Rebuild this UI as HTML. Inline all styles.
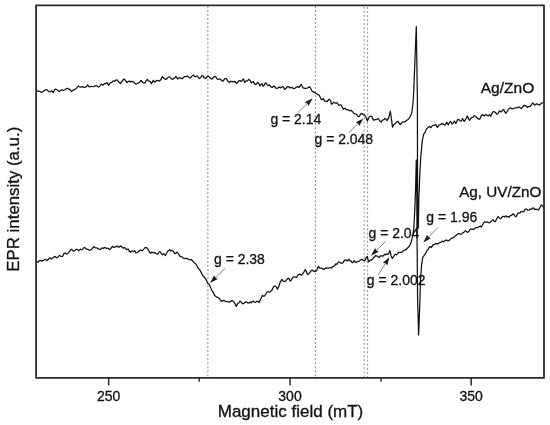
<!DOCTYPE html>
<html><head><meta charset="utf-8"><title>EPR spectra</title>
<style>
html,body{margin:0;padding:0;background:#fff;}
body{width:550px;height:425px;overflow:hidden;}
svg{display:block;font-family:"Liberation Sans",Arial,sans-serif;fill:#111;}
svg text{fill:#111;}
</style></head><body>
<svg width="550" height="425" viewBox="0 0 550 425"><rect width="550" height="425" fill="#fff"/><line x1="207.9" y1="5.8" x2="207.9" y2="376.9" stroke="#8a8a8a" stroke-width="1" stroke-dasharray="2.1 1.95"/><line x1="315.4" y1="5.8" x2="315.4" y2="376.9" stroke="#8a8a8a" stroke-width="1" stroke-dasharray="2.1 1.95"/><line x1="364.2" y1="6.6" x2="364.2" y2="376.9" stroke="#8a8a8a" stroke-width="1" stroke-dasharray="2 2.1"/><line x1="367.6" y1="7.0" x2="367.6" y2="376.9" stroke="#8a8a8a" stroke-width="1" stroke-dasharray="2 2.1"/><polyline points="36.0,90.6 37.8,91.2 39.0,91.0 40.1,91.5 41.2,92.1 42.4,92.1 44.2,90.5 46.0,89.5 47.1,89.8 48.3,91.2 49.4,91.7 50.5,91.8 51.9,90.9 53.3,92.5 54.6,89.5 56.0,89.2 57.4,90.0 58.5,91.1 59.6,91.4 60.8,90.3 61.9,89.7 63.2,90.4 64.6,90.0 66.0,88.9 67.4,88.2 68.5,89.1 69.6,89.1 70.5,90.1 71.5,91.5 73.3,90.0 75.1,89.4 76.9,87.7 78.3,86.1 79.6,86.8 80.8,87.1 81.9,86.8 83.1,86.7 84.2,87.5 86.0,87.0 87.8,85.0 88.9,86.6 90.1,86.8 91.4,86.4 92.8,86.5 93.9,86.5 95.1,85.9 96.2,85.5 97.4,86.2 98.5,87.1 99.6,86.5 100.5,84.8 101.5,84.1 102.8,85.3 104.6,83.5 105.8,83.5 106.9,82.7 108.7,85.3 109.8,83.2 111.0,82.7 112.2,82.0 113.3,80.9 115.1,81.1 116.2,79.9 117.4,80.2 119.0,82.2 120.5,83.5 121.6,81.7 122.6,80.8 123.7,79.1 125.1,79.8 126.9,82.7 128.1,81.5 129.2,81.1 130.3,81.9 131.5,81.4 132.8,81.6 134.2,82.5 136.0,84.2 137.8,83.2 139.2,82.7 141.0,80.5 142.8,82.5 143.9,83.1 145.1,82.7 146.2,80.5 147.4,79.4 148.5,80.8 149.6,81.4 150.6,82.0 151.5,83.6 153.3,80.3 154.6,82.1 155.8,81.4 156.9,80.3 158.1,80.5 159.2,81.2 161.0,79.5 162.4,76.6 164.2,78.5 166.0,79.4 167.2,78.5 168.3,77.0 169.4,76.8 170.5,77.9 171.7,79.1 172.8,79.4 173.9,78.0 174.9,78.0 176.0,76.4 177.8,79.1 178.9,77.9 180.1,77.7 181.2,78.5 182.4,78.5 184.2,76.6 186.0,76.7 187.2,76.0 188.3,76.7 189.4,77.9 190.5,77.9 191.9,76.1 193.3,74.9 194.4,76.3 195.5,76.7 196.4,75.9 197.4,76.1 199.2,78.5 200.6,77.7 201.9,75.5 203.1,76.1 204.2,77.9 205.5,78.4 206.4,77.8 207.4,76.4 208.5,76.1 209.6,77.3 210.8,78.5 211.9,79.1 213.3,77.5 214.4,76.5 215.5,76.5 216.9,78.7 218.3,79.5 219.4,79.0 220.5,79.1 221.7,80.7 222.8,81.3 223.9,79.7 225.0,78.6 226.4,78.6 227.9,81.2 229.5,82.5 230.7,81.3 231.8,81.4 232.9,81.9 234.1,81.4 235.2,81.7 236.4,83.5 237.5,82.6 238.6,80.9 239.8,80.5 240.9,81.4 242.1,80.7 243.2,78.9 245.0,82.5 246.2,80.9 247.4,80.8 248.6,79.3 250.0,80.4 251.4,82.9 253.2,81.6 254.6,83.9 255.9,84.7 257.7,82.3 258.9,83.6 260.0,85.9 261.8,83.5 263.2,86.2 264.4,85.0 265.5,82.7 266.6,83.9 267.7,85.5 269.5,85.0 270.9,86.8 272.3,87.3 273.4,86.2 274.5,86.3 275.9,88.2 277.2,88.5 279.0,87.1 280.8,87.8 282.6,86.6 283.6,87.3 284.5,89.4 286.1,88.3 287.6,86.4 288.8,86.7 289.9,87.8 291.7,87.3 293.5,88.5 294.6,88.6 295.8,87.5 297.6,86.6 299.0,87.5 300.1,85.7 301.3,84.4 302.4,86.8 303.5,88.2 304.4,88.1 305.4,88.7 307.2,88.0 308.4,87.6 309.5,86.6 310.8,88.5 312.2,91.2 314.0,92.1 315.8,93.3 317.6,94.4 318.6,94.8 319.5,95.7 321.3,99.6 322.3,99.7 323.3,98.5 324.7,101.1 326.0,101.1 327.3,101.6 329.1,99.1 330.5,100.6 331.6,104.2 332.6,103.5 333.5,102.2 335.3,103.1 337.1,102.9 338.9,105.5 340.7,104.7 342.0,106.5 343.3,109.1 345.1,108.1 346.2,109.5 347.3,109.5 348.4,109.9 349.5,110.8 351.3,110.3 353.1,112.4 354.2,113.6 355.3,113.8 356.8,114.7 358.3,116.6 359.5,116.3 360.7,113.8 361.9,113.4 363.2,114.8 364.5,114.8 365.9,117.0 367.4,121.0 369.2,117.0 370.4,116.3 371.7,116.3 372.8,118.7 373.9,120.3 375.2,119.5 376.5,119.5 378.3,118.5 379.8,121.0 381.2,122.1 382.4,120.1 383.6,120.0 384.8,118.5 385.9,119.2 387.0,120.6 388.8,117.4 390.3,111.2 391.4,118.5 392.5,127.2 393.9,124.6 394.9,124.0 395.8,122.7 397.0,121.7 398.2,121.4 399.2,123.5 400.3,124.7 401.6,122.7 402.8,121.8 404.1,122.0 405.3,121.4 406.5,120.4 407.7,119.8 408.9,118.6 410.2,116.5 411.6,113.5 412.4,108.0 413.1,102.0 413.8,90.0 414.5,71.8 415.5,45.9 416.3,26.5 417.4,100.0 417.6,228.0 418.3,228.0 418.8,200.0 419.7,176.6 420.7,157.7 422.4,139.9 423.8,133.9 424.9,132.8 426.5,129.0 428.2,127.4 429.6,126.3 430.9,127.7 432.5,125.5 434.2,125.2 435.8,124.6 437.4,127.4 439.1,124.8 440.7,124.6 441.8,123.3 443.4,124.4 445.1,124.8 446.7,122.4 448.4,124.8 449.4,122.7 450.5,121.4 452.2,124.1 453.3,123.1 454.4,121.1 456.0,123.3 457.6,119.7 458.7,119.3 459.8,120.5 461.4,121.1 462.5,118.6 464.2,121.4 465.8,119.2 467.4,115.9 468.5,118.7 469.6,120.3 470.7,118.4 471.8,117.5 472.9,117.3 474.0,115.9 475.1,115.8 476.2,117.0 477.8,118.6 478.8,119.1 479.8,119.1 481.1,116.1 482.3,114.5 484.1,116.0 485.9,114.5 487.7,115.7 488.6,115.9 489.6,114.7 490.8,116.3 492.6,112.1 493.9,111.5 495.1,112.3 496.9,114.2 498.1,113.3 499.3,111.1 501.1,111.8 502.4,110.3 503.6,109.6 504.8,111.9 506.0,113.3 507.8,110.2 509.1,108.7 510.3,107.8 511.8,108.8 513.3,108.6 514.5,108.0 515.8,107.8 517.0,107.8 518.2,107.1 519.4,107.2 521.2,108.6 522.5,107.3 523.7,105.4 525.5,105.7 527.3,107.4 528.5,106.6 529.8,106.6 531.3,105.0 532.8,102.9 534.6,105.0 535.9,104.2 537.1,103.8 538.3,104.7 539.5,105.0 541.3,103.3 542.4,102.8 543.5,102.9" fill="none" stroke="#111" stroke-width="1.25" stroke-linejoin="round"/><polyline points="36.0,261.4 37.8,262.3 39.6,260.5 40.8,260.4 41.9,261.1 43.7,260.2 45.1,259.3 46.9,260.5 48.2,259.6 49.6,258.2 50.5,257.9 51.5,259.1 53.3,257.5 55.1,256.4 56.2,257.6 57.4,257.7 58.5,256.3 59.6,255.5 61.0,256.4 62.4,256.5 64.2,253.2 65.3,253.0 66.3,254.0 67.4,253.8 69.2,251.8 71.0,249.3 72.2,249.9 73.3,251.1 74.7,250.9 76.0,249.3 77.3,249.3 78.7,250.9 80.5,249.1 81.5,249.8 82.4,249.5 83.5,248.0 84.6,247.5 86.0,248.8 87.8,249.4 89.6,250.3 90.8,250.0 91.9,249.1 93.7,246.6 95.5,247.9 96.7,247.9 97.8,248.5 99.2,249.4 100.5,249.4 101.5,248.3 102.4,247.9 103.5,248.4 104.6,247.5 105.5,247.7 106.5,248.5 107.8,248.2 109.6,249.7 111.0,248.3 112.4,246.4 114.2,247.5 116.0,246.6 117.2,246.0 118.3,247.0 119.3,247.0 120.4,245.9 121.4,246.5 122.4,247.7 123.5,248.1 124.6,247.5 125.5,248.4 126.5,249.7 128.3,249.1 129.4,251.2 130.5,252.3 131.4,251.0 132.4,251.2 133.5,251.6 134.6,250.6 136.0,252.9 137.8,252.5 139.6,250.3 140.8,249.9 141.9,250.7 143.1,250.0 144.2,248.5 145.3,247.6 146.5,247.5 148.3,249.8 149.4,251.9 150.5,253.3 151.4,252.2 152.4,252.4 153.5,253.0 154.6,252.5 156.0,253.6 157.8,254.2 158.9,252.2 160.1,251.5 161.2,253.5 162.4,254.8 163.7,253.6 165.5,255.5 166.7,253.0 167.8,251.2 169.6,249.8 170.8,250.8 171.9,250.5 173.2,251.1 174.6,253.3 175.6,253.6 176.5,252.4 177.6,252.6 178.7,254.2 179.8,256.1 181.0,256.6 182.2,256.8 183.3,258.2 184.7,258.6 186.0,258.3 187.3,258.4 188.6,259.5 189.9,259.9 191.2,259.5 192.1,260.3 193.1,261.5 194.1,262.7 195.1,263.4 196.1,264.3 197.0,266.0 198.0,268.0 199.0,269.2 200.2,270.5 201.5,273.1 202.8,275.8 204.1,277.0 205.4,278.5 206.7,280.9 207.7,283.3 208.7,284.1 209.6,285.0 210.6,287.4 211.6,290.1 212.6,291.3 213.6,292.8 214.5,295.2 215.8,296.5 217.1,297.1 218.4,297.7 219.7,299.0 220.6,300.5 221.6,301.4 222.9,300.6 224.2,300.4 225.8,301.5 227.3,301.5 229.1,302.2 230.9,301.1 232.1,300.5 233.2,301.3 235.0,303.6 236.4,306.4 237.7,303.4 238.8,303.0 240.0,301.1 241.2,301.9 242.3,303.6 243.4,303.7 244.5,302.7 245.7,301.8 246.8,302.2 247.9,302.9 249.1,303.1 250.2,302.0 251.2,302.8 252.3,301.5 253.4,301.2 254.5,302.2 255.7,302.3 256.8,301.1 258.0,301.3 259.1,302.5 260.9,298.8 262.3,295.5 264.1,296.4 265.5,294.6 266.8,292.2 268.1,291.5 269.5,292.2 270.6,291.7 271.8,290.4 273.5,286.8 274.8,285.9 276.1,286.8 277.5,289.1 278.6,286.9 279.8,283.2 280.9,280.8 281.9,279.3 283.5,281.6 284.9,281.5 286.2,280.5 287.5,278.7 288.9,278.4 290.3,281.1 291.4,280.0 292.5,277.7 293.6,276.9 294.8,276.8 296.6,277.5 298.0,275.0 299.8,274.1 301.2,275.3 302.4,274.3 303.5,272.7 305.3,269.5 306.4,271.7 307.5,274.4 308.9,273.8 310.3,271.8 311.4,270.3 312.5,270.2 313.6,271.2 314.8,271.6 316.6,270.7 317.6,267.9 318.5,266.4 319.6,268.1 320.7,268.2 321.9,268.2 323.0,269.3 324.0,269.4 325.0,268.6 326.1,267.9 327.3,268.2 328.6,268.1 330.0,267.5 331.6,268.0 332.6,266.7 333.7,265.9 334.7,265.7 335.7,263.9 337.0,264.3 338.2,262.2 339.4,262.0 340.7,262.9 341.9,263.3 343.1,262.6 344.4,260.4 345.6,259.8 347.2,261.0 348.9,259.3 350.0,260.9 351.0,260.8 352.1,262.6 353.1,262.3 354.2,260.6 355.8,262.6 357.1,261.7 358.3,261.4 359.5,261.1 360.8,259.6 362.0,259.3 363.4,260.3 364.8,260.6 366.1,258.0 367.3,256.5 368.5,261.8 370.2,260.2 371.4,260.1 372.6,259.3 373.6,257.6 374.7,256.9 375.5,255.6 377.3,256.2 378.4,257.1 379.4,257.4 380.4,255.9 381.4,255.9 382.9,256.2 384.6,254.4 385.7,254.8 386.8,253.9 387.9,254.4 388.9,253.1 389.9,250.6 391.1,255.9 392.3,258.5 394.1,255.6 395.3,254.2 396.4,254.8 397.6,253.7 398.9,252.3 400.2,252.4 401.7,252.3 403.2,251.1 404.5,249.9 405.8,249.8 407.6,248.0 409.3,246.3 410.8,243.3 411.9,238.9 412.8,235.4 413.7,229.3 414.3,220.0 415.0,205.0 415.7,185.0 416.3,160.0 416.7,172.0 417.0,230.0 417.6,300.0 418.6,335.0 419.6,310.0 420.5,280.0 420.9,274.0 421.6,264.7 422.8,257.3 425.7,253.2 426.8,250.6 428.2,249.1 429.8,246.6 431.5,247.4 433.2,244.7 434.4,244.6 435.6,243.5 436.8,243.6 437.9,244.1 439.7,242.4 440.9,242.3 442.1,241.2 443.8,241.8 445.0,240.6 446.2,240.0 447.4,240.6 448.5,240.8 450.3,239.4 451.5,238.1 452.6,238.2 454.4,236.8 456.2,235.3 457.4,234.1 459.1,233.5 460.3,234.1 461.5,234.1 462.6,232.8 463.8,232.4 465.6,230.6 467.4,232.4 468.5,231.8 469.7,230.0 470.9,229.0 472.1,229.1 473.2,229.3 474.4,228.8 475.6,227.7 476.8,227.6 478.0,227.6 479.1,226.5 480.3,226.1 481.5,227.1 482.6,224.7 483.8,222.7 485.0,221.7 486.3,222.3 487.5,221.9 488.8,222.8 489.9,222.5 491.0,221.5 492.1,220.3 493.2,219.9 494.3,221.5 495.4,221.7 496.8,218.6 498.1,216.6 499.5,218.2 500.8,218.8 502.1,216.9 503.5,216.3 504.6,217.0 505.7,215.8 506.8,216.9 507.9,216.3 509.0,217.4 510.3,215.7 511.5,215.5 512.8,213.8 513.9,214.2 515.0,216.3 516.1,216.8 517.2,214.4 518.3,213.0 519.7,213.1 521.2,211.5 522.6,211.9 523.9,211.6 525.1,209.2 526.4,209.0 527.8,210.3 529.2,210.0 530.3,209.1 531.3,209.4 532.4,208.3 533.5,207.8 534.6,209.6 535.7,209.2 537.0,209.3 538.4,210.0 539.8,207.8 541.2,205.0 542.4,205.8 543.5,207.5" fill="none" stroke="#111" stroke-width="1.25" stroke-linejoin="round"/><rect x="36.1" y="5.3" width="507.9" height="372.6" fill="none" stroke="#2b2b2b" stroke-width="1.8" stroke-linejoin="round"/><line x1="108.7" y1="377.9" x2="108.7" y2="385.4" stroke="#2b2b2b" stroke-width="1.5"/><line x1="290.0" y1="377.9" x2="290.0" y2="385.4" stroke="#2b2b2b" stroke-width="1.5"/><line x1="471.2" y1="377.9" x2="471.2" y2="385.4" stroke="#2b2b2b" stroke-width="1.5"/><line x1="199.3" y1="377.9" x2="199.3" y2="381.8" stroke="#2b2b2b" stroke-width="1.4"/><line x1="381.0" y1="377.9" x2="381.0" y2="381.8" stroke="#2b2b2b" stroke-width="1.4"/><text x="108.7" y="400.5" font-size="14" text-anchor="middle" stroke="#111" stroke-width="0.3">250</text><text x="290.0" y="400.5" font-size="14" text-anchor="middle" stroke="#111" stroke-width="0.3">300</text><text x="471.2" y="400.5" font-size="14" text-anchor="middle" stroke="#111" stroke-width="0.3">350</text><text transform="translate(290.5 416.9) scale(1.032 1)" x="0" y="0" font-size="16.5" text-anchor="middle" stroke="#111" stroke-width="0.3">Magnetic field (mT)</text><text transform="translate(18.9 199.2) rotate(-90) scale(1.02 1)" x="0" y="0" font-size="16.5" text-anchor="middle" stroke="#111" stroke-width="0.3">EPR intensity (a.u.)</text><text transform="translate(480.7 93.2) scale(1.073 1)" font-size="14.5" stroke="#111" stroke-width="0.3">Ag/ZnO</text><text transform="translate(459.2 196.6) scale(1.05 1)" font-size="14.5" stroke="#111" stroke-width="0.3">Ag, UV/ZnO</text><text transform="translate(270.4 123.6) scale(0.932 1)" font-size="15" stroke="#111" stroke-width="0.3">g = 2.14</text><text transform="translate(314.5 144.4) scale(0.932 1)" font-size="15" stroke="#111" stroke-width="0.3">g = 2.048</text><text transform="translate(214.0 263.5) scale(0.932 1)" font-size="15" stroke="#111" stroke-width="0.3">g = 2.38</text><text transform="translate(368.5 238.2) scale(0.932 1)" font-size="15" stroke="#111" stroke-width="0.3">g = 2.04</text><text transform="translate(366.8 284.8) scale(0.932 1)" font-size="15" stroke="#111" stroke-width="0.3">g = 2.002</text><text transform="translate(426.3 221.5) scale(0.932 1)" font-size="15" stroke="#111" stroke-width="0.3">g = 1.96</text><line x1="298.1" y1="112.4" x2="307.7" y2="103.1" stroke="#666" stroke-width="0.8"/><polygon points="312.6,98.3 308.5,106.0 307.3,103.5 304.8,102.2" fill="#1a1a1a"/><line x1="349.0" y1="132.5" x2="358.5" y2="123.2" stroke="#666" stroke-width="0.8"/><polygon points="363.4,118.4 359.3,126.1 358.1,123.6 355.7,122.3" fill="#1a1a1a"/><line x1="225.3" y1="268.2" x2="215.0" y2="278.1" stroke="#666" stroke-width="0.8"/><polygon points="210.0,282.9 214.2,275.3 215.3,277.8 217.8,279.0" fill="#1a1a1a"/><line x1="385.6" y1="241.4" x2="375.9" y2="251.0" stroke="#666" stroke-width="0.8"/><polygon points="371.0,255.8 375.1,248.1 376.3,250.6 378.7,251.8" fill="#1a1a1a"/><line x1="378.4" y1="274.7" x2="385.8" y2="262.8" stroke="#666" stroke-width="0.8"/><polygon points="389.5,257.0 387.3,265.4 385.6,263.3 382.9,262.7" fill="#1a1a1a"/><line x1="438.1" y1="227.4" x2="428.1" y2="237.5" stroke="#666" stroke-width="0.8"/><polygon points="423.2,242.4 427.2,234.7 428.4,237.1 430.9,238.3" fill="#1a1a1a"/></svg>
</body></html>
